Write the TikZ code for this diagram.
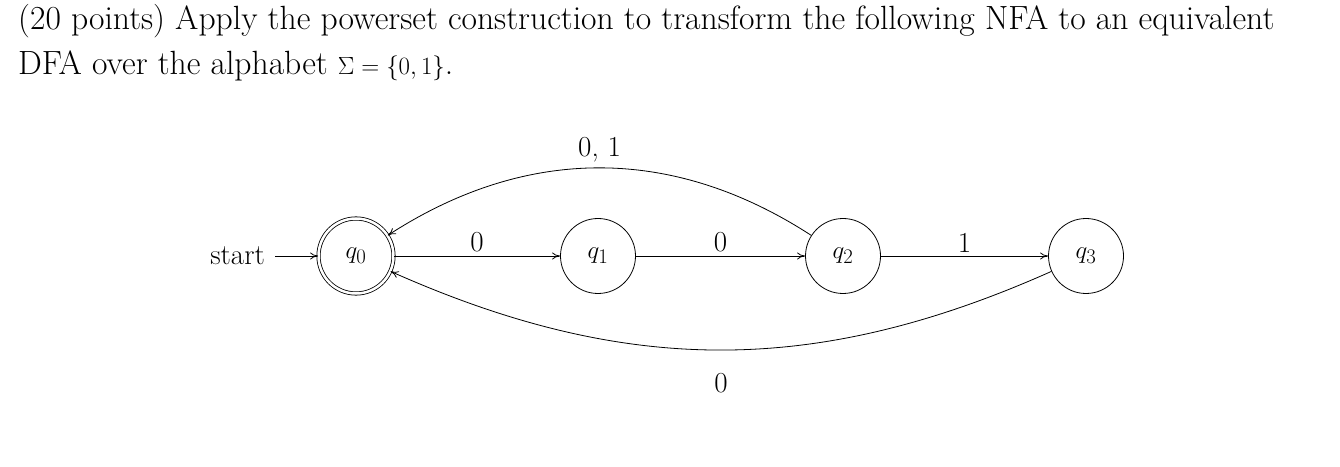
\documentclass[tikz,border=0pt]{standalone}
\usetikzlibrary{arrows.meta}
\begin{document}
\begin{tikzpicture}[x=1pt,y=1pt,
  st/.style={circle,draw,line width=0.8pt,minimum size=75pt,inner sep=0pt,font=\fontsize{29}{33}\selectfont},
  acc/.style={st,double,double distance=2.5pt},
  lab/.style={font=\fontsize{29}{33}\selectfont},
  arr/.style={->,>={To[length=8pt,width=7pt]},line width=0.8pt}]
\useasboundingbox (0,0) rectangle (1340,466);
\node[anchor=base west,font=\fontsize{33.6}{40}\selectfont,inner sep=0] (t1) at (18,436) {(20 points) Apply the powerset construction to transform the following NFA to an equivalent};
\node[anchor=base west,font=\fontsize{33.6}{40}\selectfont,inner sep=0] (t2) at (18,391) {DFA over the alphabet $\Sigma=\{0,1\}$.};
\node[acc] (q0) at (356,210) {$q_0$};
\node[st] (q1) at (598,210) {$q_1$};
\node[st] (q2) at (843,210) {$q_2$};
\node[st] (q3) at (1086,210) {$q_3$};
\node[lab,anchor=east,inner sep=10pt] (s) at (275,210) {start};
\draw[arr] (s) -- (q0);
\draw[arr] (q0) -- node[lab,above] {0} (q1);
\draw[arr] (q1) -- node[lab,above] {0} (q2);
\draw[arr] (q2) -- node[lab,above] {1} (q3);
\draw[arr] (q2) to[bend right=33] node[lab,above=2pt] {0, 1} (q0);
\draw[arr] (q3) to[bend left=24] node[lab,below=20pt] {0} (q0);
\end{tikzpicture}
\end{document}
